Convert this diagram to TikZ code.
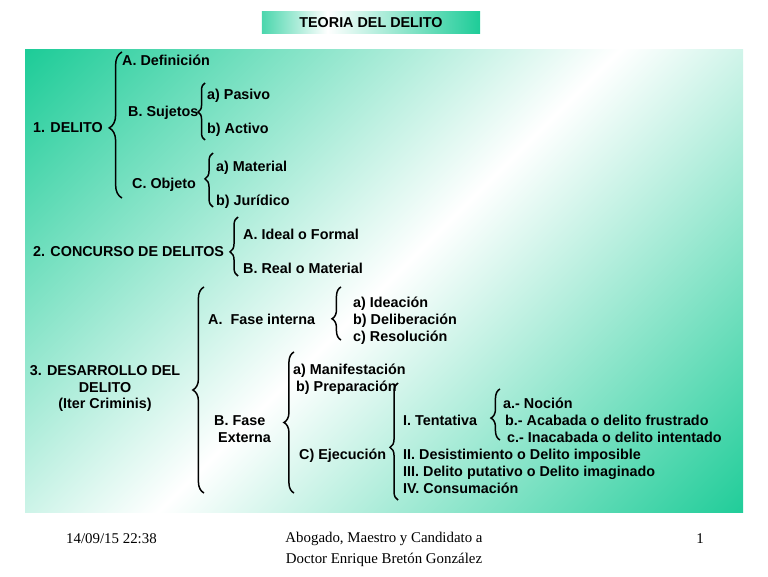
\documentclass[tikz,border=0pt]{standalone}
\usepackage{fontspec}
\setmainfont{Liberation Sans}
\newfontfamily\piefont{Liberation Serif}
\usetikzlibrary{decorations.pathreplacing}
\definecolor{verde}{RGB}{30,204,152}
\colorlet{verdeclaro}{verde!80}
\pgfdeclarehorizontalshading{fondo}{100bp}{color(0bp)=(verde); color(25bp)=(verde); color(50bp)=(white); color(75bp)=(verde); color(100bp)=(verde)}
\pgfdeclarehorizontalshading{sombratitulo}{100bp}{color(0bp)=(verdeclaro); color(25bp)=(verdeclaro); color(40bp)=(white); color(75bp)=(verde); color(100bp)=(verde)}

\begin{document}
\begin{tikzpicture}[x=0.033073cm, y=-0.033073cm,
        txt/.style={anchor=west, inner sep=0pt, text height=0.72em, text depth=0pt, font=\bfseries\fontsize{13.5}{16}\selectfont},
        brc/.style={decorate, decoration={brace, amplitude=#1}, line width=1.4pt},
        pie/.style={inner sep=0pt, font=\piefont\fontsize{14}{19}\selectfont}
    ]
        \useasboundingbox (0,0) rectangle (768,576);

        % fondo
        \begin{scope}
            \clip (25,50) rectangle (743,512);
            \shade[shading=fondo, shading angle=-45] (-37,-135) rectangle (805,707);
        \end{scope}

        % titulo
        \node[shading=sombratitulo, shade, inner sep=0pt, minimum width=7.21cm, minimum height=0.76cm,
            font=\bfseries\fontsize{13.5}{16}\selectfont] (titulo) at (371,22.5) {TEORIA DEL DELITO};

        % 1. delito
        \node[txt] (delito) at (33,129) {1. DELITO};
        \node[txt] (defA) at (122,62) {A. Definición};
        \node[txt] (sujB) at (128,113) {B. Sujetos};
        \node[txt] (pasivo) at (207,96) {a) Pasivo};
        \node[txt] (activo) at (207,130) {b) Activo};
        \node[txt] (objC) at (132,185) {C. Objeto};
        \node[txt] (material) at (216,168) {a) Material};
        \node[txt] (juridico) at (216,202) {b) Jurídico};

        \draw[brc=12, decoration={aspect=0.48}] (122,198) -- (122,52);
        \draw[brc=6.5, decoration={aspect=0.49}] (205,140) -- (205,83);
        \draw[brc=7.5, decoration={aspect=0.52}] (213,207) -- (213,153);

        % 2. concurso
        \node[txt] (concurso) at (33,253) {2. CONCURSO DE DELITOS};
        \node[txt] (ideal) at (243,236) {A. Ideal o Formal};
        \node[txt] (real) at (243,270) {B. Real o Material};

        \draw[brc=7.5, decoration={aspect=0.41}] (238,276) -- (238,217);

        % 3. desarrollo
        \node[inner sep=0pt, align=center, font=\bfseries\fontsize{13.5}{15.5}\selectfont] (desarrollo) at (105,388.5)
            {3. DESARROLLO DEL\\DELITO\\(Iter Criminis)};
        \node[txt] (internaA) at (208,321) {A.\ \ Fase interna};
        \node[txt] (ideacion) at (353,304) {a) Ideación};
        \node[txt] (deliberacion) at (353,321) {b) Deliberación};
        \node[txt] (resolucion) at (353,338) {c) Resolución};
        \node[txt] (bfase) at (214,422) {B. Fase};
        \node[txt] (bext) at (218,439) {Externa};
        \node[txt] (manif) at (293,371) {a) Manifestación};
        \node[txt] (prep) at (296,388) {b) Preparación};
        \node[txt] (ejecucion) at (299,456) {C) Ejecución};
        \node[txt] (tentativa) at (403,422) {I. Tentativa};
        \node[txt] (nocion) at (503,405) {a.- Noción};
        \node[txt] (acabada) at (505,422) {b.- Acabada o delito frustrado};
        \node[txt] (inacabada) at (507,439) {c.- Inacabada o delito intentado};
        \node[txt] (desist) at (403,456) {II. Desistimiento o Delito imposible};
        \node[txt] (putativo) at (403,473) {III. Delito putativo o Delito imaginado};
        \node[txt] (consum) at (403,490) {IV. Consumación};

        \draw[brc=10.5, decoration={aspect=0.5}] (204,493) -- (204,287);
        \draw[brc=8.5, decoration={aspect=0.4}] (341,340) -- (341,287);
        \draw[brc=9.5, decoration={aspect=0.5}] (294,493) -- (294,352);
        \draw[brc=7.5, decoration={aspect=0.45}] (398,500) -- (398,383);
        \draw[brc=8.5, decoration={aspect=0.43}] (500,440) -- (500,389);

        % pie
        \node[pie, anchor=west] (fecha) at (66,539) {14/09/15 22:38};
        \node[pie, align=center] (autor) at (384,549.5) {Abogado, Maestro y Candidato a\\Doctor Enrique Bretón González};
        \node[pie] (num) at (700,539) {1};
    \end{tikzpicture}
\end{document}
